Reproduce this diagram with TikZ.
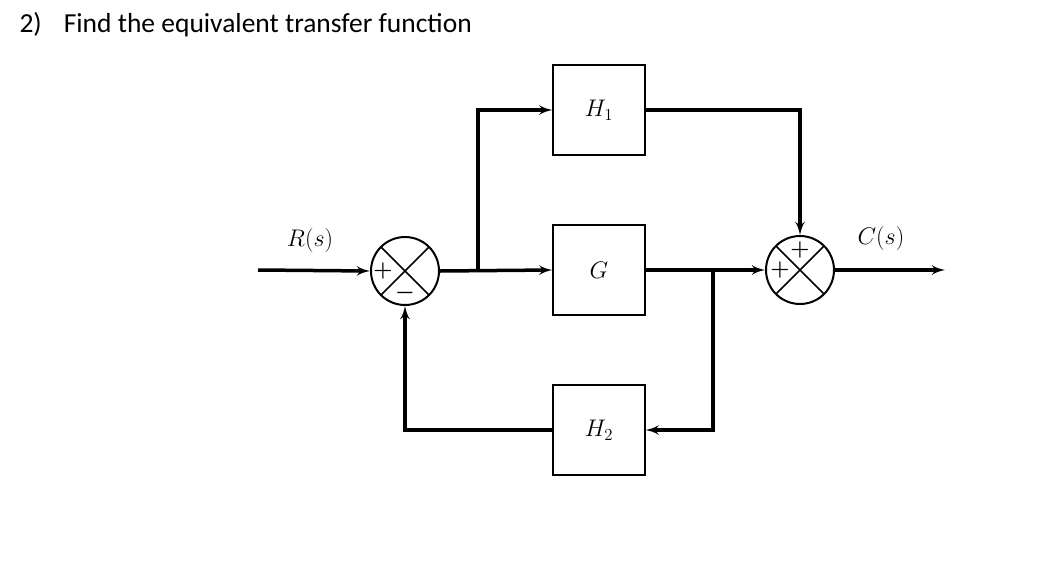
\RequirePackage{fix-cm}
\documentclass[tikz,border=0pt]{standalone}
\usepackage{fontspec}
\newfontfamily\titlefont{Carlito}
\usetikzlibrary{arrows,positioning,calc}
\begin{document}
\begin{tikzpicture}[>=latex',x=1pt,y=-1pt]
        \tikzset{block/.style= {draw, line width=1.2pt, rectangle, align=center,minimum width=92pt,minimum height=90pt,font=\fontsize{24}{26}\selectfont},
        sumj/.style={draw, circle, line width=2pt, minimum size=68pt, inner sep=0pt,
            path picture={\draw[line width=1.5pt] (path picture bounding box.north west) -- (path picture bounding box.south east)
                (path picture bounding box.north east) -- (path picture bounding box.south west);}},
        sig/.style={font=\fontsize{22}{22}\selectfont\boldmath, inner sep=0pt},
        wire/.style={line width=3.5pt},
        lbl/.style={font=\fontsize{24}{26}\selectfont}
        }
        \useasboundingbox (0,0) rectangle (1047,563);
        \node[anchor=west, font=\titlefont\fontsize{27.5}{30}\selectfont] (title) at (16,25) {2)\hspace{22pt}Find the equivalent transfer function};
        \node [sumj]  (sum1) at (405,271) {};
        \node [block] (g) at (599,270) {$G$};
        \node [block] (h1) at (599,110) {$H_1$};
        \node [block] (h2) at (599,430) {$H_2$};
        \node [sumj]  (sum2) at (800,270) {};
        \coordinate (in) at (258,270);
        \coordinate (out) at (945,270);
        \coordinate (b1) at (478,270);
        \coordinate (b2) at (713,270);
        \node[lbl] (rs) at (310,240) {$R(s)$};
        \node[lbl] (cs) at (881,238) {$C(s)$};
        \node[sig] at ($(sum1.center)+(-22,0)$) {$+$};
        \node[sig] at ($(sum1.center)+(0,22)$) {$-$};
        \node[sig] at ($(sum2.center)+(0,-20)$) {$+$};
        \node[sig] at ($(sum2.center)+(-20,0)$) {$+$};
%% paths
        \draw[wire,->] (in) -- (sum1.west);
        \draw[wire,->] (sum1.east) -- (g.west);
        \draw[wire,->] (b1) |- (h1.west);
        \draw[wire,->] (h1.east) -| (sum2.north);
        \draw[wire,->] (g.east) -- (sum2.west);
        \draw[wire,->] (b2) |- (h2.east);
        \draw[wire,->] (h2.west) -| (sum1.south);
        \draw[wire,->] (sum2.east) -- (out);
    \end{tikzpicture}
\end{document}
